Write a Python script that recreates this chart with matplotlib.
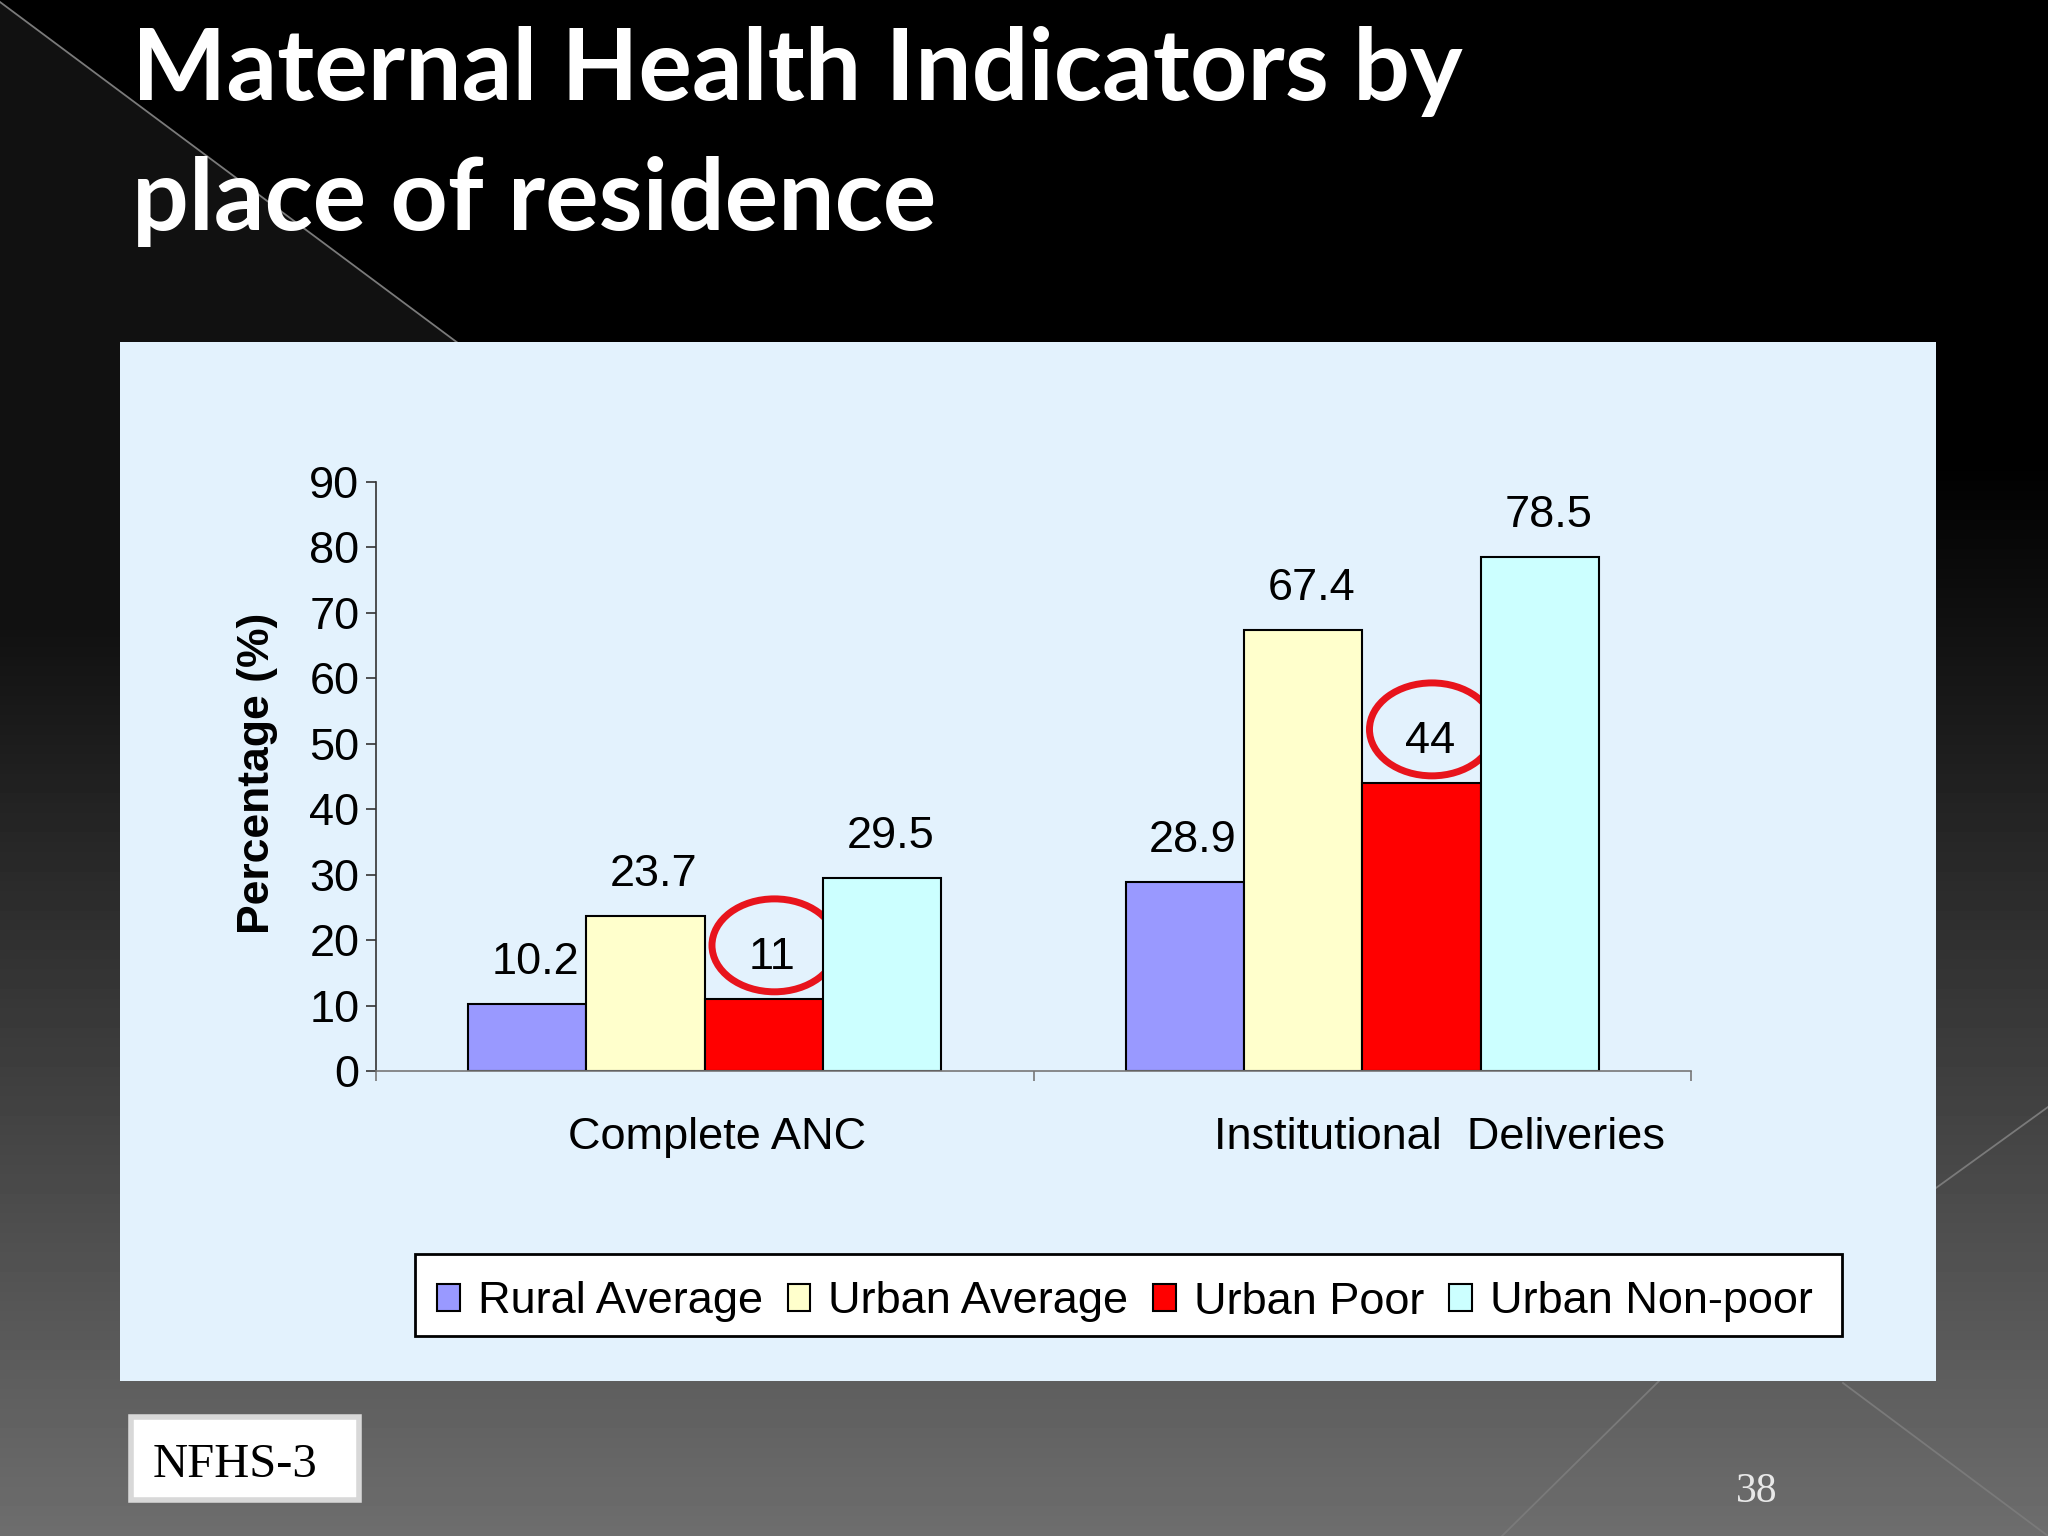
"""
Maternal Health Indicators by place of residence (NFHS-3)

Grouped bar chart on a dark slide background, urban poor bars circled.
"""

import numpy as np
import matplotlib
matplotlib.use("Agg")
import matplotlib.pyplot as plt
from matplotlib.patches import Rectangle, Ellipse


# data
CATEGORIES = ["Complete ANC", "Institutional  Deliveries"]
SERIES = ["Rural Average", "Urban Average", "Urban Poor", "Urban Non-poor"]
RURAL_AVG = [10.2, 28.9]
URBAN_AVG = [23.7, 67.4]
URBAN_POOR = [11, 44]
URBAN_NONPOOR = [29.5, 78.5]
Y_TICKS = [0, 10, 20, 30, 40, 50, 60, 70, 80, 90]
HIGHLIGHT = "Urban Poor"

COLORS = ["#9999ff", "#ffffcc", "#ff0000", "#ccffff"]
LABEL_SHIFT = [0.018, 0.117]      # category labels sit a little right of centre
FS = 32.5                         # chart text size

plt.rcParams["font.family"] = ["Liberation Sans", "DejaVu Sans"]

W, H = 2048, 1536
fig = plt.figure(figsize=(W / 100, H / 100), dpi=100)

# slide background: black top, grey gradient towards the bottom
bg = fig.add_axes([0, 0, 1, 1], zorder=-10)
yy, xx = np.mgrid[0:H, 0:W]
shade = np.clip((yy / H - 0.30) / 0.70, 0, 1) * 0.43
shade = np.maximum(shade, np.where(yy > 0.745 * xx + 2, 0.07, 0.0))
bg.imshow(shade, cmap="gray", vmin=0, vmax=1, extent=(0, W, H, 0), aspect="auto")
deco = dict(color="#7a7a7a", lw=1.3)
bg.plot([0, 470], [2, 352], **deco)
bg.plot([1900, 2048], [1214, 1107], **deco)
bg.plot([1843, 2048], [1383, 1536], **deco)
bg.plot([1502, 1659], [1536, 1381], **deco)
bg.set_xlim(0, W)
bg.set_ylim(H, 0)
bg.axis("off")

# chart panel
fig.patches.append(Rectangle((120 / W, 1 - 1381 / H), 1816 / W, 1039 / H,
                             transform=fig.transFigure, facecolor="#e3f2fd",
                             edgecolor="none", zorder=-5))

# title
title_kw = dict(color="white", fontsize=72, fontweight="bold", family=["Lato", "DejaVu Sans"],
                ha="left", va="baseline")
fig.text(132 / W, 1 - 100 / H, "Maternal Health Indicators by", **title_kw)
fig.text(132 / W, 1 - 230 / H, "place of residence", **title_kw)

# bars
ax = fig.add_axes([376 / W, 1 - 1071 / H, 1315 / W, 589 / H])
ax.patch.set_alpha(0)

x = np.arange(len(CATEGORIES))
bar_w = 0.18
series_values = [RURAL_AVG, URBAN_AVG, URBAN_POOR, URBAN_NONPOOR]
handles = []
for i, (name, vals, col) in enumerate(zip(SERIES, series_values, COLORS)):
    bars = ax.bar(x + (i - 1.5) * bar_w, vals, bar_w, color=col,
                  edgecolor="black", linewidth=1.5, label=name)
    handles.append(bars.patches[0])
    for rect, v in zip(bars, vals):
        cx = rect.get_x() + rect.get_width() / 2
        ax.annotate(f"{v:g}", (cx, v), xytext=(6, 15), textcoords="offset points",
                    ha="center", va="bottom", fontsize=FS)
        if name == HIGHLIGHT:
            ax.add_patch(Ellipse((cx + 0.016, v + 8.2), 0.19, 14.2, fill=False,
                                 edgecolor="#e8141c", lw=5, clip_on=False))

ax.set_xlim(-0.5, 1.5)
ax.set_ylim(0, 90)
ax.set_yticks(Y_TICKS)
ax.tick_params(axis="y", direction="out", length=7, width=1.2, pad=5,
               labelsize=FS, color="#333333")
ax.set_xticks(x + np.array(LABEL_SHIFT))
ax.set_xticklabels(CATEGORIES)
ax.tick_params(axis="x", which="major", length=0, pad=33, labelsize=FS)
ax.set_xticks([-0.5, 0.5, 1.5], minor=True)
ax.tick_params(axis="x", which="minor", direction="out", length=7, width=1.2,
               color="#777777")
for side in ("top", "right"):
    ax.spines[side].set_visible(False)
ax.spines["left"].set_color("#333333")
ax.spines["left"].set_linewidth(1.2)
ax.spines["bottom"].set_color("#777777")
ax.spines["bottom"].set_linewidth(1.2)

fig.text(257 / W, 1 - 773 / H, "Percentage (%)", rotation=90, ha="center",
         va="center", fontsize=32, fontweight="bold")

# legend with a hand-placed frame
fig.patches.append(Rectangle((415 / W, 1 - 1336 / H), 1427 / W, 82 / H,
                             transform=fig.transFigure, facecolor="white",
                             edgecolor="black", linewidth=2, zorder=1))
fig.legend(handles, SERIES, loc="center left", bbox_to_anchor=(437 / W, 1 - 1302 / H),
           ncol=4, frameon=False, fontsize=FS, handlelength=0.5, handleheight=0.55,
           handletextpad=0.4, columnspacing=0.55, borderpad=0, borderaxespad=0)

# source box and slide number
fig.patches.append(Rectangle((130.5 / W, 1 - 1499.5 / H), 228 / W, 83 / H,
                             transform=fig.transFigure, facecolor="white",
                             edgecolor="#d8d8d8", linewidth=4, zorder=1))
fig.text(153 / W, 1 - 1477 / H, "NFHS-3", fontsize=35, va="baseline", ha="left",
         family=["Liberation Serif", "DejaVu Serif"])
fig.text(1757 / W, 1 - 1502 / H, "38", fontsize=30, va="baseline", ha="center",
         color="#e8e8e8", family=["Liberation Serif", "DejaVu Serif"])

fig.savefig("out.png", dpi=100)
